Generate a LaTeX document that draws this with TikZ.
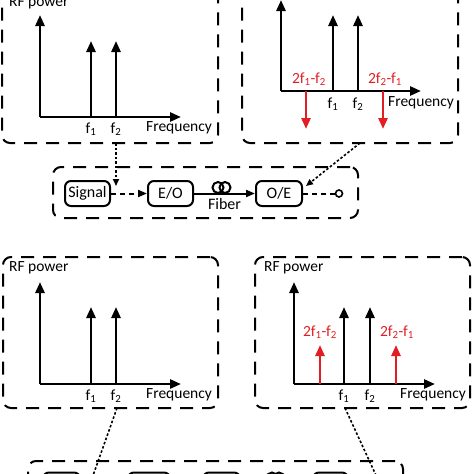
\documentclass[tikz,border=0pt]{standalone}
\usepackage{fontspec}
\setmainfont{Carlito}
\usetikzlibrary{arrows.meta}
\definecolor{myred}{RGB}{225,30,35}
\begin{document}
\begin{tikzpicture}[x=1pt,y=-1pt,
  panel/.style={draw, line width=2pt, rounded corners=8pt, dash pattern=on 13pt off 9pt, inner sep=0pt},
  spike/.style={line width=2.6pt, -{Triangle[length=11pt,width=9pt]}},
  redspike/.style={spike, draw=myred},
  lbl/.style={font=\fontsize{15.5}{18}\selectfont, inner sep=0pt},
  redlbl/.style={lbl, text=myred},
  block/.style={draw, line width=2pt, rounded corners=6pt, minimum height=25pt, inner sep=0pt, font=\fontsize{16}{18}\selectfont},
  link/.style={line width=2pt, dash pattern=on 5pt off 4pt, -{Triangle[length=9pt,width=7pt]}},
  solidlink/.style={line width=2pt, -{Triangle[length=9pt,width=7pt]}},
  dotlink/.style={line width=1.6pt, dash pattern=on 2.5pt off 2pt, -{Triangle[length=7pt,width=6pt]}},
  coil/.style={draw, line width=2pt, circle, minimum size=11pt, inner sep=0pt},
]
\useasboundingbox (0,0) rectangle (474,474);
\clip (0,0) rectangle (474,474);

% ---------- panels ----------
\node[panel, minimum width=216pt, minimum height=151pt] (p1) at (110,67.5) {};
\node[panel, minimum width=216pt, minimum height=151pt] (p2) at (350,67.5) {};
\node[panel, minimum width=215pt, minimum height=151pt] (p3) at (110.5,332.5) {};
\node[panel, minimum width=215pt, minimum height=151pt] (p4) at (362.5,332.5) {};

% ---------- panel 1 (top left) ----------
\draw[spike] (40,117) -- (40,15);
\draw[spike] (40,117) -- (181,117);
\draw[spike] (91,117) -- (91,41);
\draw[spike] (116,117) -- (116,41);
\node[lbl, anchor=west] (t1) at (9,3) {RF power};
\node[lbl] (a1) at (91,129) {f\textsubscript{1}};
\node[lbl] (b1) at (116,129) {f\textsubscript{2}};
\node[lbl, anchor=west] (c1) at (146,128) {Frequency};

% ---------- panel 2 (top right) ----------
\draw[spike] (281,91) -- (281,0);
\draw[spike] (281,91) -- (421,91);
\draw[spike] (333,91) -- (333,15);
\draw[spike] (358,91) -- (358,15);
\draw[redspike] (306,91) -- (306,129);
\draw[redspike] (383,91) -- (383,129);
\node[redlbl] (r1) at (309,79) {2f\textsubscript{1}-f\textsubscript{2}};
\node[redlbl] (r2) at (385,79) {2f\textsubscript{2}-f\textsubscript{1}};
\node[lbl] (a2) at (333,104) {f\textsubscript{1}};
\node[lbl] (b2) at (358,104) {f\textsubscript{2}};
\node[lbl, anchor=west] (c2) at (388,103) {Frequency};

% ---------- panel 3 (bottom left) ----------
\draw[spike] (40,384) -- (40,282);
\draw[spike] (40,384) -- (181,384);
\draw[spike] (91,384) -- (91,307);
\draw[spike] (116,384) -- (116,307);
\node[lbl, anchor=west] (t3) at (9,268) {RF power};
\node[lbl] (a3) at (91,396) {f\textsubscript{1}};
\node[lbl] (b3) at (116,396) {f\textsubscript{2}};
\node[lbl, anchor=west] (c3) at (146,395) {Frequency};

% ---------- panel 4 (bottom right) ----------
\draw[spike] (294,384) -- (294,282);
\draw[spike] (294,384) -- (435,384);
\draw[spike] (344,384) -- (344,307);
\draw[spike] (370,384) -- (370,307);
\draw[redspike] (320,384) -- (320,345);
\draw[redspike] (396,384) -- (396,345);
\node[redlbl] (r3) at (320,332) {2f\textsubscript{1}-f\textsubscript{2}};
\node[redlbl] (r4) at (397,332) {2f\textsubscript{2}-f\textsubscript{1}};
\node[lbl, anchor=west] (t4) at (264,268) {RF power};
\node[lbl] (a4) at (344,396) {f\textsubscript{1}};
\node[lbl] (b4) at (370,396) {f\textsubscript{2}};
\node[lbl, anchor=west] (c4) at (400,395) {Frequency};

% ---------- middle link ----------
\node[panel, minimum width=305pt, minimum height=51pt] (s1) at (205.5,192.5) {};
\node[block, minimum width=45pt] (sig) at (87.5,193.5) {Signal};
\node[block, minimum width=45pt] (eo) at (170.5,193.5) {E/O};
\node[block, minimum width=46pt] (oe) at (279,193.5) {O/E};
\node[coil] (k1) at (218,187.5) {};
\node[coil] (k2) at (225,187.5) {};
\node[font=\fontsize{16}{18}\selectfont, inner sep=0pt] (fib) at (224.5,204) {Fiber};
\node[draw, circle, line width=1.6pt, minimum size=7pt, inner sep=0pt] (end1) at (339,193.5) {};
\draw[link] (sig) -- (eo);
\draw[solidlink] (eo) -- (oe);
\draw[line width=2pt, dash pattern=on 5pt off 4pt] (oe) -- (end1);

\coordinate (d1s) at (116,143);
\coordinate (d1e) at (116,186);
\coordinate (d2s) at (360,143);
\coordinate (d2e) at (306,186);
\draw[dotlink] (d1s) -- (d1e);
\draw[dotlink] (d2s) -- (d2e);

% ---------- bottom link (cut) ----------
\node[panel, minimum width=375pt, minimum height=60pt] (s2) at (215.5,491) {};
\node[block, minimum width=37pt] (g1) at (61.5,485) {};
\node[block, minimum width=42pt] (g2) at (149,485) {};
\node[block, minimum width=37pt] (g3) at (221.5,485) {};
\node[block, minimum width=35pt] (g4) at (330.5,485) {};
\node[coil] (k3) at (272,478) {};
\node[coil] (k4) at (279,478) {};
\coordinate (d3s) at (117,408);
\coordinate (d3e) at (90,484);
\coordinate (d4s) at (345,408);
\coordinate (d4e) at (380,484);
\draw[dotlink] (d3s) -- (d3e);
\draw[dotlink] (d4s) -- (d4e);
\end{tikzpicture}
\end{document}
